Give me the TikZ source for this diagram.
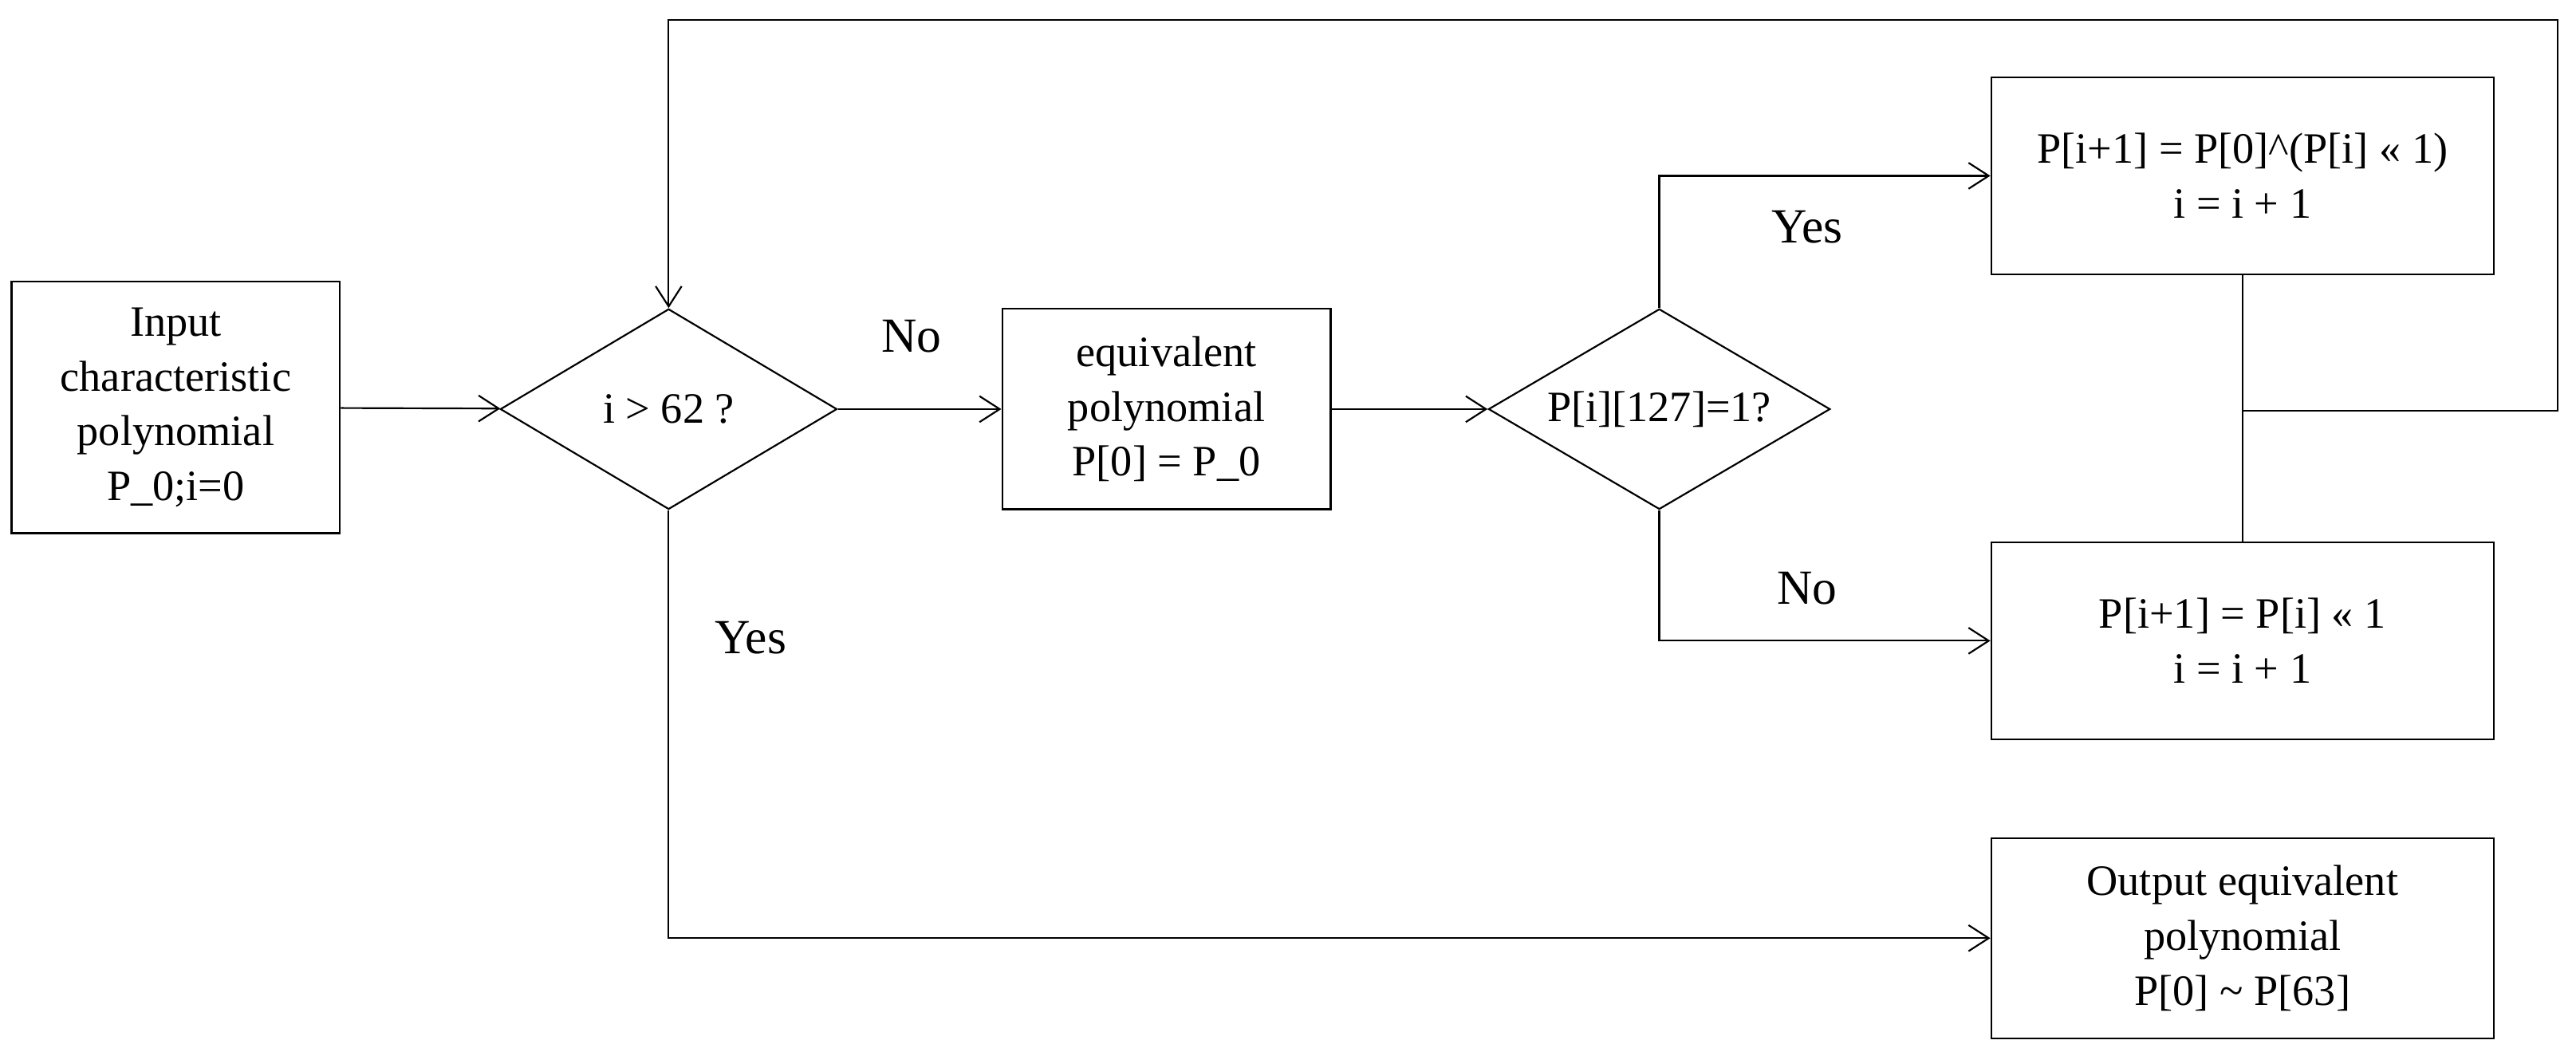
\documentclass[tikz,border=0pt]{standalone}
\usepackage{fontspec}
\setmainfont{Liberation Serif}
\usetikzlibrary{arrows.meta,shapes.geometric}
\begin{document}
\begin{tikzpicture}[x=0.02cm,y=-0.02cm,
  every node/.style={font=\fontsize{15}{19}\selectfont,align=center},
  boxnode/.style={draw,line width=0.6pt,inner sep=0pt},
  dia/.style={draw,diamond,line width=0.6pt,inner sep=0pt,aspect=1.68},
  conn/.style={line width=0.6pt,-{Straight Barb[length=7pt,width=9pt]}},
  plain/.style={line width=0.6pt},
  lbl/.style={font=\fontsize{17}{20}\selectfont}]
\useasboundingbox (0,0) rectangle (1568,640);
\node[boxnode,minimum width=200\pgflinewidth*0+4cm,minimum height=3.06cm] (in) at (107,248) {Input\\characteristic\\polynomial\\P\_0;i=0};
\node[dia,minimum width=4.1cm,minimum height=2.44cm] (d1) at (407,249) {i > 62 ?};
\node[boxnode,minimum width=4cm,minimum height=2.44cm] (eq) at (710,249) {equivalent\\polynomial\\P[0] = P\_0};
\node[dia,minimum width=4.16cm,minimum height=2.44cm] (d2) at (1010,249) {P[i][127]=1?};
\node[boxnode,minimum width=6.12cm,minimum height=2.4cm] (t) at (1365,107) {P[i+1] = P[0]\^{}(P[i] << 1)\\i = i + 1};
\node[boxnode,minimum width=6.12cm,minimum height=2.4cm] (b) at (1365,390) {P[i+1] = P[i] << 1\\i = i + 1};
\node[boxnode,minimum width=6.12cm,minimum height=2.44cm] (o) at (1365,571) {Output equivalent\\polynomial\\P[0] \textasciitilde{} P[63]};
\coordinate (j) at (1365,250);
\draw[conn] (in) -- (d1);
\draw[conn] (d1) -- node[lbl,above=16pt,pos=0.45]{No} (eq);
\draw[conn] (eq) -- (d2);
\draw[conn] (d2.north) |- (t.west);
\draw[conn] (d2.south) |- (b.west);
\draw[conn] (d1.south) |- (o.west);
\draw[plain] (t.south) -- (b.north);
\draw[conn] (j) -- (1557,250) -- (1557,12) -- (407,12) -- (d1.north);
\node[lbl] (ly1) at (1100,138) {Yes};
\node[lbl] (ln2) at (1100,358) {No};
\node[lbl] (ly2) at (457,388) {Yes};
\end{tikzpicture}
\end{document}
